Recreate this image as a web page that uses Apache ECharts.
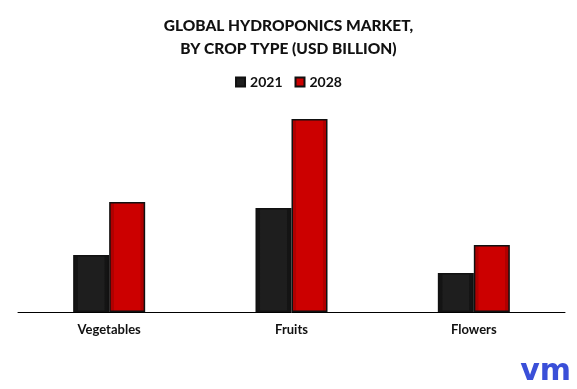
<!DOCTYPE html>
<html><head><meta charset="utf-8">
<script src="https://cdn.jsdelivr.net/npm/echarts@6/dist/echarts.min.js"></script>
<style>html,body{margin:0;padding:0;background:#fff}#c{width:577px;height:389px}</style>
</head><body><div id="c"></div>
<script>
var categories = ['Vegetables', 'Fruits', 'Flowers'];
var values2021 = [1.14, 2.08, 0.78];
var values2028 = [2.2, 3.86, 1.34];
var seriesNames = ['2021', '2028'];

var chart = echarts.init(document.getElementById('c'));
var font = 'Lato, "Open Sans", sans-serif';
function barStyle(base, edge) {
  return {
    color: {
      type: 'linear', x: 0, y: 0, x2: 1, y2: 0,
      colorStops: [
        {offset: 0, color: edge}, {offset: 0.12, color: edge},
        {offset: 0.14, color: base}, {offset: 0.86, color: base},
        {offset: 0.88, color: edge}, {offset: 1, color: edge}
      ]
    },
    borderColor: '#111', borderWidth: 1.5
  };
}
chart.setOption({
  animation: false,
  title: {
    text: 'GLOBAL HYDROPONICS MARKET,\nBY CROP TYPE (USD BILLION)',
    left: 'center', top: 9,
    textStyle: {fontFamily: font, fontWeight: 900, fontSize: 15.5, color: '#111', lineHeight: 23}
  },
  legend: {
    top: 70, left: 'center', itemWidth: 9, itemHeight: 9, itemGap: 12, icon: 'rect',
    textStyle: {fontFamily: font, fontWeight: 'bold', fontSize: 14, color: '#111'},
    data: seriesNames
  },
  grid: {left: 18, right: 12, top: 112, bottom: 77},
  xAxis: {
    type: 'category', data: categories,
    axisLine: {lineStyle: {color: '#000', width: 1}},
    axisTick: {show: false},
    axisLabel: {fontFamily: font, fontWeight: 'bold', fontSize: 13, color: '#111', margin: 11}
  },
  yAxis: {type: 'value', min: 0, max: 4, show: false, splitLine: {show: false}},
  graphic: [{
    type: 'text', right: 6, bottom: 2,
    style: {text: 'vm', font: 'bold 30px "DejaVu Sans", sans-serif', fill: '#3a4fd8'}
  }],
  series: [
    {name: seriesNames[0], type: 'bar', data: values2021, barWidth: 36, barGap: '0%',
     itemStyle: barStyle('#1e1e1e', '#141414')},
    {name: seriesNames[1], type: 'bar', data: values2028, barWidth: 36, barGap: '0%',
     itemStyle: barStyle('#cc0000', '#b00000')}
  ]
});
</script></body></html>
